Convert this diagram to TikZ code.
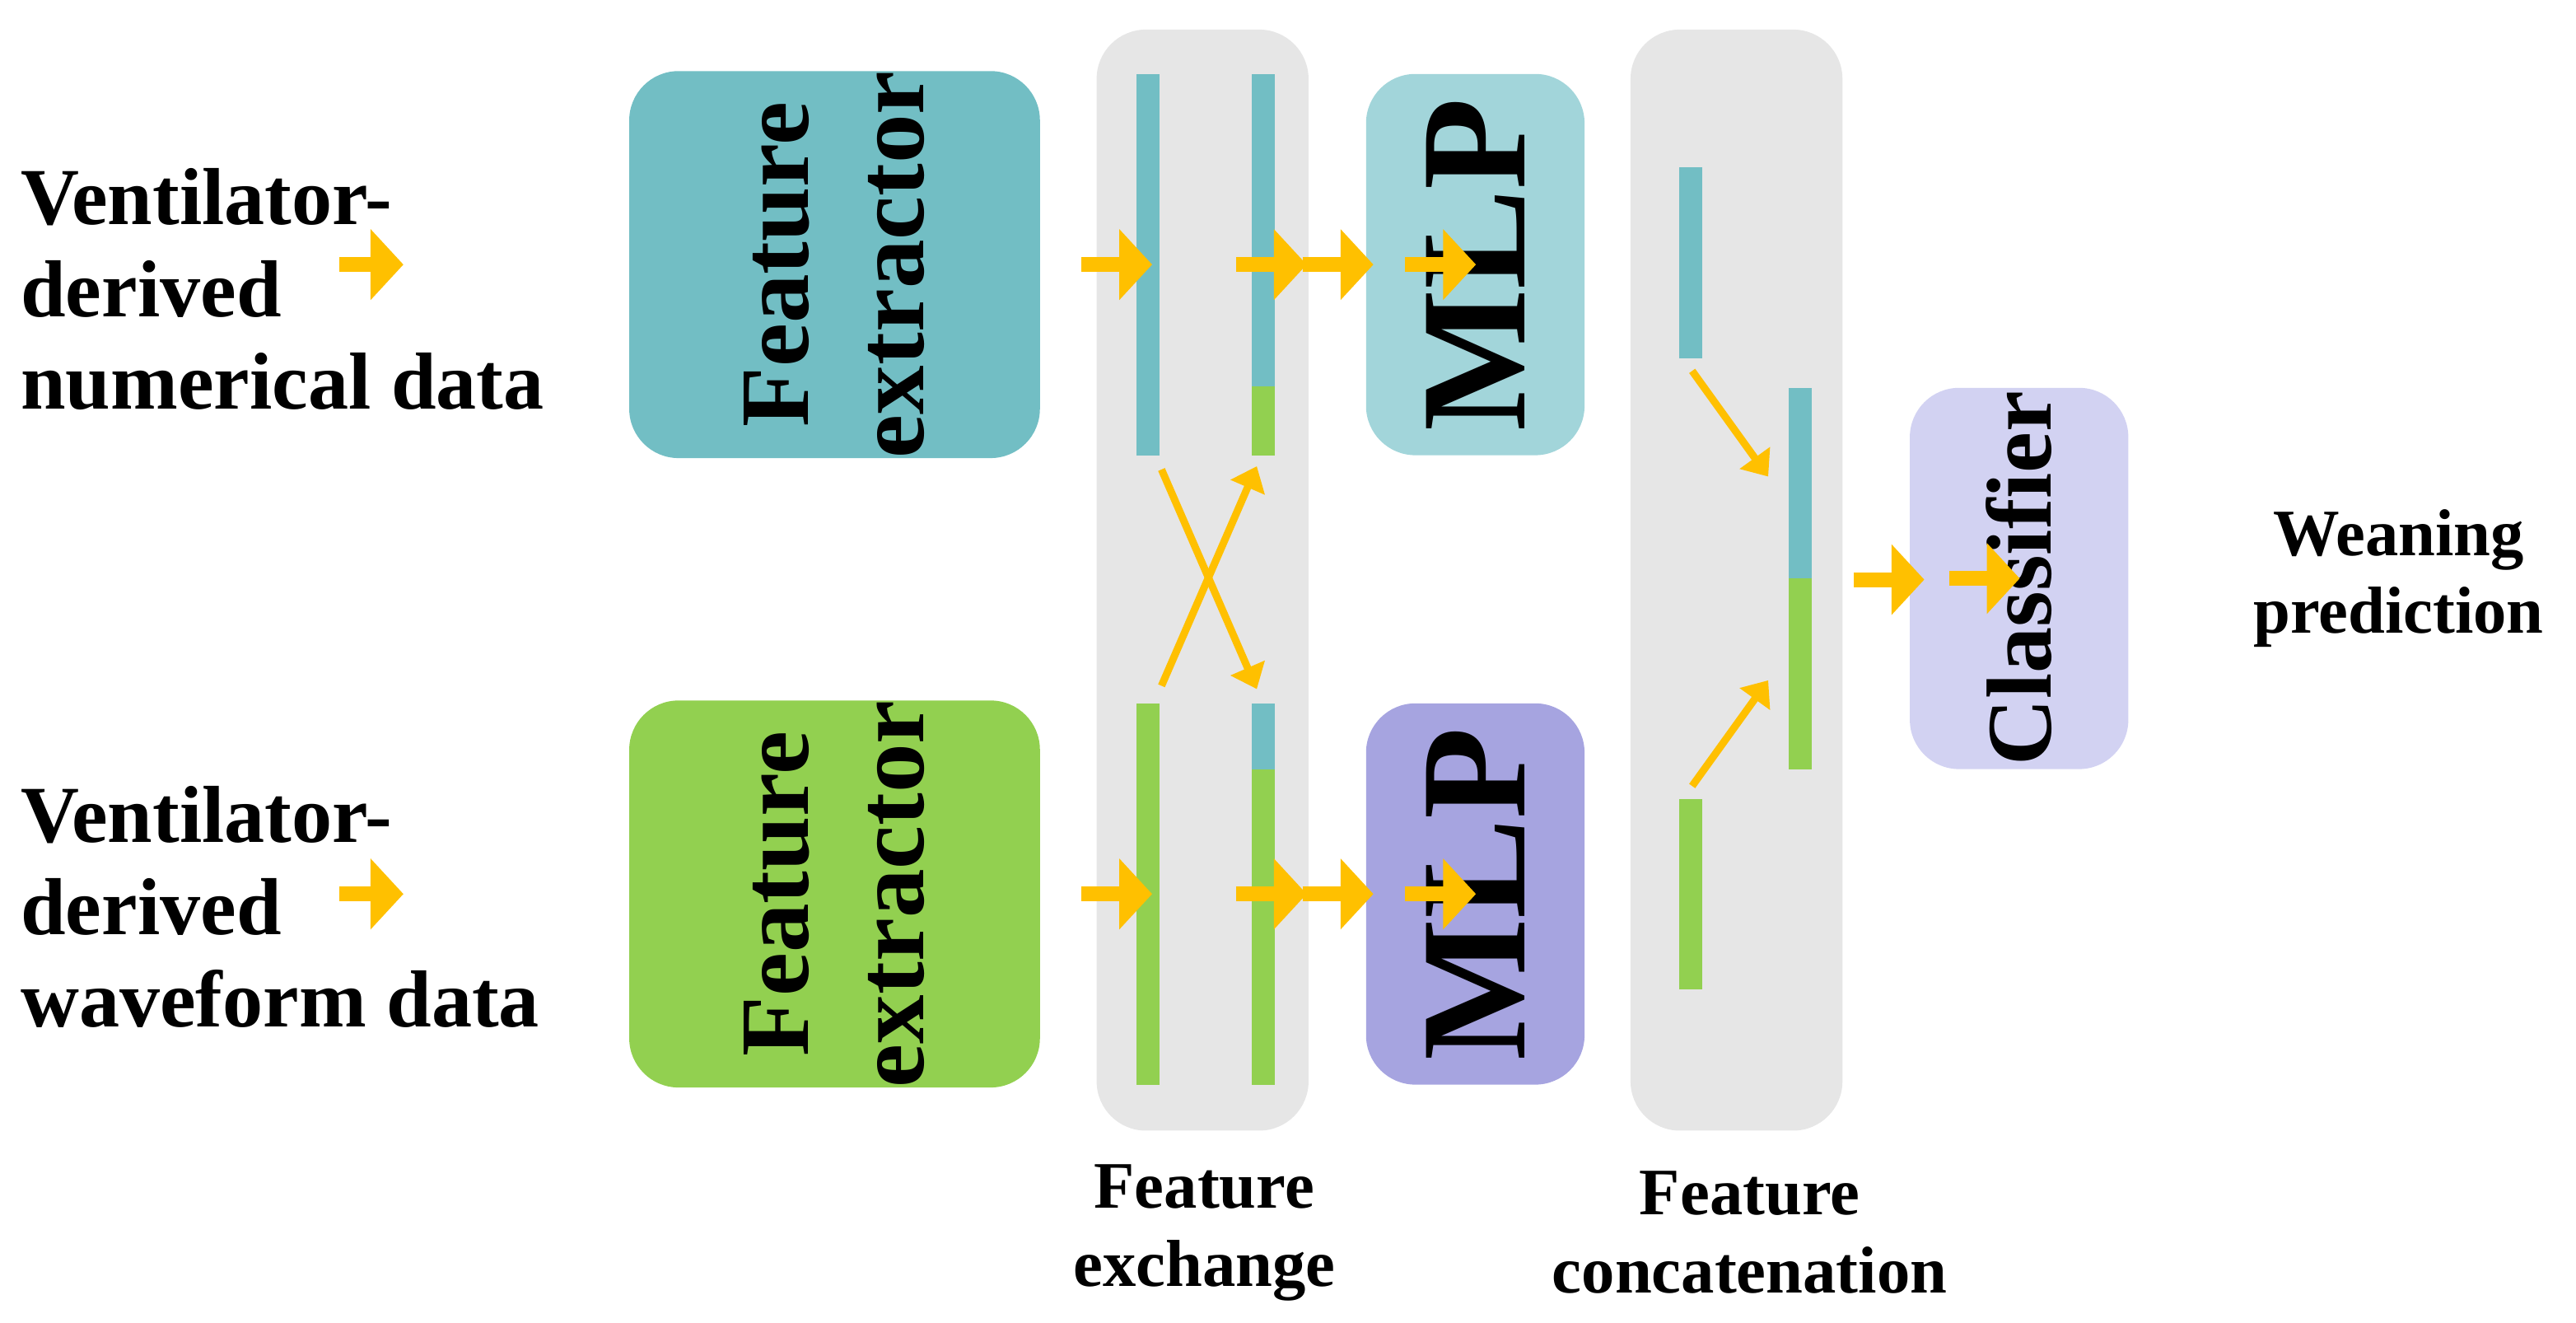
\documentclass[tikz,border=0pt]{standalone}
\usepackage{fontspec}
\setmainfont{Liberation Serif}
\usetikzlibrary{arrows.meta}
\definecolor{arrowc}{HTML}{FFC000}
\definecolor{teal1}{HTML}{72BEC4}
\definecolor{green1}{HTML}{92D050}
\definecolor{mlpa}{HTML}{A2D5DA}
\definecolor{mlpb}{HTML}{A6A4E0}
\definecolor{clsc}{HTML}{D2D2F2}
\definecolor{panel}{HTML}{E6E6E6}
\begin{document}
\begin{tikzpicture}[x=0.1mm,y=-0.1mm,
  box/.style={rounded corners=3mm, inner sep=0pt, draw=none, align=center, font=\bfseries\fontsize{17}{20}\selectfont, rotate=90},
  bar/.style={inner sep=0pt, minimum width=1.4mm},
  fat/.style={draw=arrowc, line width=0.9mm, -{Triangle[length=2mm,width=4.2mm]}},
  thin/.style={draw=arrowc, line width=0.45mm, -{Triangle[length=1.4mm,width=2.2mm]}},
  lbl/.style={align=left, font=\bfseries\fontsize{14}{16}\selectfont, anchor=west, inner sep=0pt},
  captxt/.style={align=center, font=\bfseries\fontsize{11.5}{13.5}\selectfont, inner sep=0pt}]
\useasboundingbox (0,0) rectangle (1568,805);
% grey panels
\node[fill=panel, rounded corners=3mm, minimum width=12.9mm, minimum height=67mm, inner sep=0pt] (p1) at (732,353) {};
\node[fill=panel, rounded corners=3mm, minimum width=12.9mm, minimum height=67mm, inner sep=0pt] (p2) at (1057,353) {};
% inputs
\node[lbl] (in1) at (12,176) {Ventilator-\\derived\\numerical data};
\node[lbl] (in2) at (12,552) {Ventilator-\\derived\\waveform data};
% feature extractors
\node[box, fill=teal1, minimum width=23.2mm, minimum height=25mm] (fe1) at (508,161) {Feature\\extractor};
\node[box, fill=green1, minimum width=23.2mm, minimum height=25mm] (fe2) at (508,544) {Feature\\extractor};
% exchange bars
\node[bar, fill=teal1, minimum height=23.2mm] (b1) at (699,161) {};
\node[bar, fill=teal1, minimum height=19mm] (b2t) at (769,140) {};
\node[bar, fill=green1, minimum height=4.2mm] (b2g) at (769,256) {};
\node[bar, fill=green1, minimum height=23.2mm] (b3) at (699,544) {};
\node[bar, fill=teal1, minimum height=4mm] (b4t) at (769,448) {};
\node[bar, fill=green1, minimum height=19.2mm] (b4g) at (769,564) {};
% MLPs
\node[box, fill=mlpa, minimum width=23.2mm, minimum height=13.3mm, font=\bfseries\fontsize{26}{28}\selectfont] (m1) at (898,161) {MLP};
\node[box, fill=mlpb, minimum width=23.2mm, minimum height=13.3mm, font=\bfseries\fontsize{26}{28}\selectfont] (m2) at (898,544) {MLP};
% concatenation bars
\node[bar, fill=teal1, minimum height=11.6mm] (c1) at (1029,160) {};
\node[bar, fill=green1, minimum height=11.6mm] (c2) at (1029,544) {};
\node[bar, fill=teal1, minimum height=11.6mm] (c3t) at (1096,294) {};
\node[bar, fill=green1, minimum height=11.6mm] (c3g) at (1096,410) {};
% classifier
\node[box, fill=clsc, minimum width=23.2mm, minimum height=13.3mm, font=\bfseries\fontsize{16}{18}\selectfont] (cl) at (1229,352) {Classifier};
\node[captxt] (out) at (1460,352) {Weaning\\prediction};
% captions
\node[captxt] (cap1) at (733,750) {Feature\\exchange};
\node[captxt] (cap2) at (1065,750) {Feature\\concatenation};
% fat arrows
\draw[fat] ([xshift=-50]fe1.north) -- ++(39,0);
\draw[fat] ([xshift=-50]fe2.north) -- ++(39,0);
\draw[fat] ([xshift=7]fe1.south) -- ++(43,0);
\draw[fat] ([xshift=7]fe2.south) -- ++(43,0);
\draw[fat] ([xshift=13]b1.east) -- ++(43,0);
\draw[fat] ([xshift=13]b3.east) -- ++(43,0);
\draw[fat] ([xshift=-49]m1.south) -- ++(43,0);
\draw[fat] ([xshift=-49]m2.south) -- ++(43,0);
\draw[fat] ([xshift=7]m1.north) -- ++(43,0);
\draw[fat] ([xshift=7]m2.north) -- ++(43,0);
\draw[fat] ([xshift=7]c3t.south east) -- ++(43,0);
\draw[fat] ([xshift=7]cl.north) -- ++(43,0);
% thin arrows
\draw[thin] ([shift={(8,8)}]b1.south) -- ([shift={(-4,-8)}]b4t.north);
\draw[thin] ([shift={(8,-10)}]b3.north) -- ([shift={(-4,6)}]b2g.south);
\draw[thin] ([shift={(1,7)}]c1.south) -- ([shift={(-12,-4)}]c3t.west);
\draw[thin] ([shift={(1,-7)}]c2.north) -- ([shift={(-12,4)}]c3g.west);
\end{tikzpicture}
\end{document}
